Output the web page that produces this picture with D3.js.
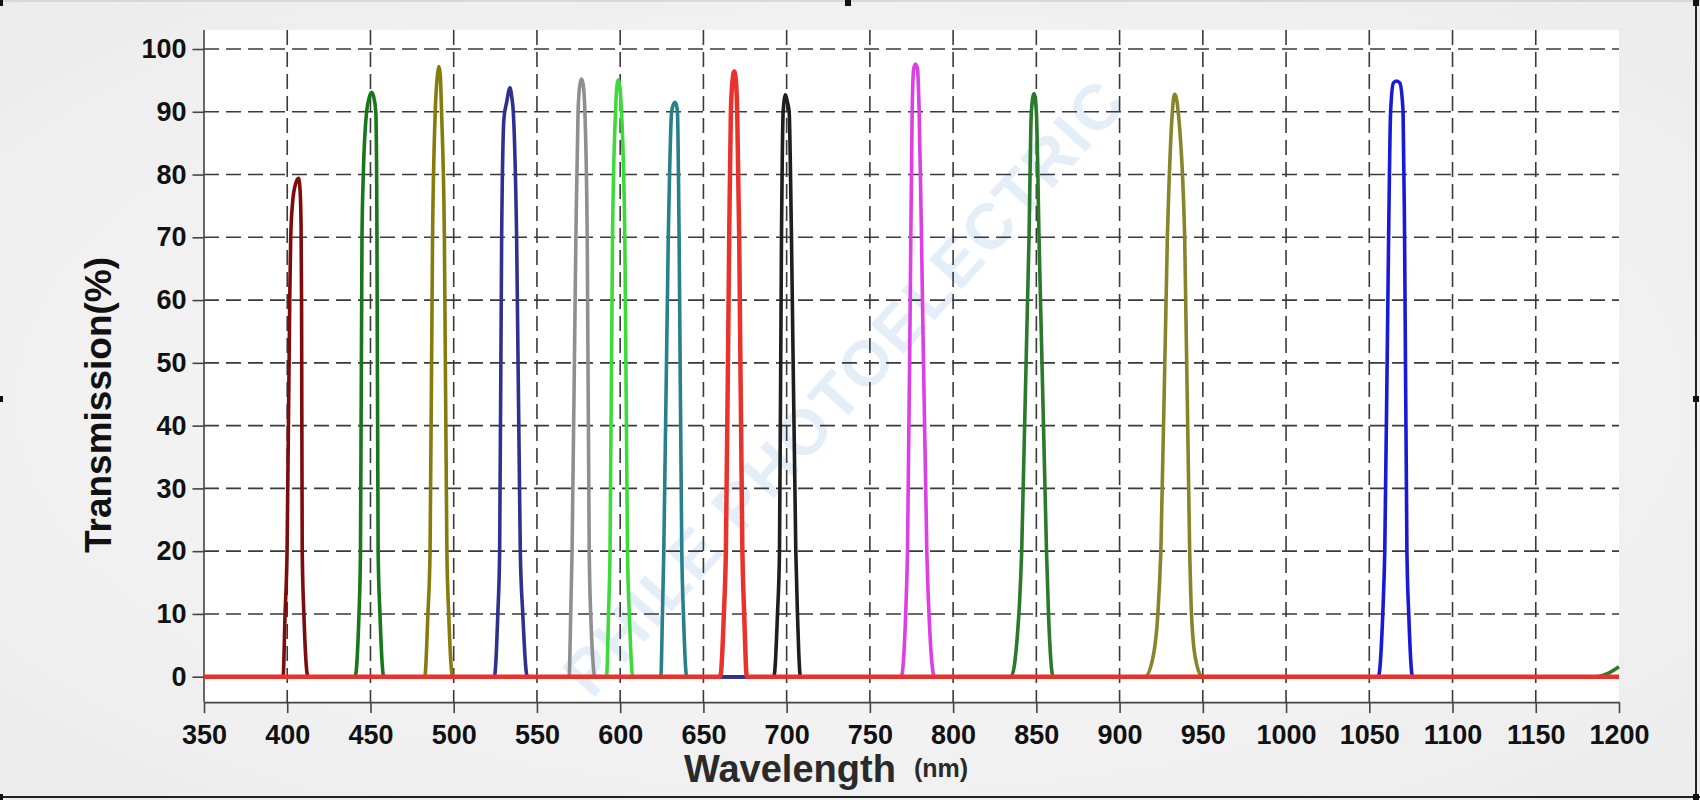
<!DOCTYPE html>
<html>
<head>
<meta charset="utf-8">
<script src="https://cdn.jsdelivr.net/npm/d3@7"></script>
<style>
  body { margin: 0; background: #f2f2f2; }
  #svg text { font-family: "Liberation Sans", Arial, sans-serif; }
</style>
</head>
<body>
<div id="svg"></div>
<script>
// axis ticks
const wavelengthTicks = [350, 400, 450, 500, 550, 600, 650, 700, 750, 800, 850, 900, 950, 1000, 1050, 1100, 1150, 1200];
const transmissionTicks = [0, 10, 20, 30, 40, 50, 60, 70, 80, 90, 100];

// filter curves, [wavelength nm, transmission %]
const f407 = [[397.5,0],[398.7,10],[399.9,20],[401.5,60],[402.1,70],[403.2,75.5],[405,78.5],[406.8,79.4],[407.8,77],[408.3,72],[408.6,60],[409,20],[410,10],[412.5,0]];
const f450 = [[440.7,0],[443.1,10],[444,20],[444.9,70],[445.7,80],[447.7,90],[449.3,92.3],[450.7,93.1],[452,92.3],[453.2,90],[453.7,80],[453.9,70],[454.6,20],[455.7,10],[458,0]];
const f491 = [[482.6,0],[484.5,10],[485.8,20],[487.3,70],[488.9,90],[490.3,96],[491.1,97.2],[491.9,96],[492.7,90],[494.4,70],[495.9,20],[497,10],[499.4,0]];
const f534 = [[524.4,0],[526.5,10],[527.6,20],[528.8,70],[530.2,89],[531.8,91.5],[533.8,93.8],[534.9,92.3],[535.8,90],[537.8,70],[540,20],[541.5,10],[544.2,0]];
const f577 = [[569.3,0],[570.3,10],[571.1,20],[573.4,70],[574.7,90],[575.8,94.3],[576.8,95.2],[577.8,94.3],[578.8,90],[580.2,70],[581.4,20],[582.3,10],[584.9,0]];
const f599 = [[591.8,0],[593,10],[593.9,20],[595.4,70],[597.2,90],[598,94],[598.8,95.1],[599.8,94],[600.8,90],[602.8,70],[604.4,20],[605.5,10],[607.6,0]];
const f633 = [[624.4,0],[625.4,10],[626.2,20],[628.9,70],[630.9,90],[632,91.2],[632.9,91.5],[633.8,91],[634.4,90],[635.4,70],[637,20],[638,10],[640,0]];
const f669 = [[660.1,0],[662.3,10],[663.5,20],[665.5,70],[666.5,90],[667.5,95],[668.5,96.4],[669.5,95],[670.3,90],[671.5,70],[673.4,20],[674.5,10],[676.1,0]];
const f700 = [[692.3,0],[694.5,10],[695.7,20],[696.9,70],[697.9,90],[699.3,92.7],[700.5,91.5],[701.5,90],[702.9,70],[705.5,20],[706.5,10],[708.3,0]];
const f777 = [[768.8,0],[771.5,10],[772.6,20],[774.6,70],[775.4,90],[776.3,96.8],[777.4,97.6],[778.6,96.8],[779.6,90],[781,70],[784.2,20],[785.5,10],[788.8,0]];
const f849 = [[834.8,0],[839.5,10],[841.2,20],[845.6,70],[847,90],[848.6,92.9],[850,90],[851.6,70],[856.1,20],[857.3,10],[860.1,0],[1186,0],[1193,0.5],[1200,1.6]];
const f933 = [[915.2,0],[920,3],[923,10],[924.8,20],[928.7,70],[931.7,90],[932.5,92.3],[933.1,92.8],[934,92.3],[935.2,90],[939.1,70],[942.1,20],[943.2,10],[945.5,3],[949.7,0]];
const f1066 = [[1055.4,0],[1058.1,10],[1059.3,20],[1061.6,70],[1062.8,90],[1064.5,94.6],[1066.4,94.9],[1068.3,94.6],[1070.3,90],[1071.2,70],[1072.6,20],[1073.7,10],[1076,0]];

// draw order (red last so its baseline sits on top), and colours kept apart
const curves = [f407, f450, f491, f577, f599, f633, f700, f777, f849, f933, f1066, f534, f669];
const curveColors = ['#7d0c0c', '#17781a', '#857c0c', '#8f8f8f', '#3ddb3a', '#27808a', '#1e1e1e', '#dd3ee6', '#2b7a2b', '#87842a', '#1a1ad6', '#30308f', '#e8322b'];

function makeGraph(){
  let w = 1700;
  let h = 800;

  let svg = d3.select('#svg').append('svg').attr('width', w).attr('height', h);

  // page background with a soft vignette
  let defs = svg.append('defs');
  let grad = defs.append('radialGradient').attr('id', 'bg').attr('cx', '50%').attr('cy', '50%').attr('r', '70%');
  grad.append('stop').attr('offset', '0%').attr('stop-color', '#fafafa');
  grad.append('stop').attr('offset', '100%').attr('stop-color', '#ececec');
  svg.append('rect').attr('width', w).attr('height', h).attr('fill', 'url(#bg)');

  let xScale = d3.scaleLinear()
              .domain([350, 1200])
              .range([204, 1619]);

  let yScale = d3.scaleLinear()
              .domain([0, 100])
              .range([676.7, 49]);

  let top = 30;
  let bottom = yScale(-4.05);

  // white plot area
  svg.append('rect')
    .attr('x', xScale(350)).attr('y', top)
    .attr('width', xScale(1200) - xScale(350)).attr('height', bottom - top)
    .attr('fill', '#ffffff');

  // watermark
  svg.append('text')
    .attr('transform', 'translate(843,388) rotate(-48)')
    .attr('text-anchor', 'middle')
    .attr('dy', '0.35em')
    .attr('textLength', 800)
    .style('font-size', '64px')
    .style('font-weight', 'bold')
    .style('fill', '#dce9f8')
    .style('opacity', 0.75)
    .text('PHILE PHOTOELECTRIC');

  // dashed grid
  svg.append('g').selectAll('line')
    .data(transmissionTicks.filter(d => d > 0))
    .enter()
      .append('line')
      .attr('x1', xScale(350)).attr('x2', xScale(1200))
      .attr('y1', d => yScale(d)).attr('y2', d => yScale(d))
      .attr('stroke', '#3a3a3a')
      .attr('stroke-width', 1.6)
      .attr('stroke-dasharray', '15,7');

  svg.append('g').selectAll('line')
    .data(wavelengthTicks.filter(d => d > 350 && d < 1200))
    .enter()
      .append('line')
      .attr('x1', d => xScale(d)).attr('x2', d => xScale(d))
      .attr('y1', top).attr('y2', bottom)
      .attr('stroke', '#3a3a3a')
      .attr('stroke-width', 1.6)
      .attr('stroke-dasharray', '15,7');

  // axes
  let xAxis = d3.axisBottom(xScale).tickValues(wavelengthTicks).tickFormat(d3.format('d'))
                .tickSize(11).tickPadding(12).tickSizeOuter(0);
  let xAxisGroup = svg.append('g')
                  .attr('transform', `translate(0, ${bottom})`)
                  .call(xAxis);

  let yAxis = d3.axisLeft(yScale).tickValues(transmissionTicks).tickFormat(d3.format('d'))
                .tickSize(11.5).tickPadding(6).tickSizeOuter(0);
  let yAxisGroup = svg.append('g')
                  .attr('transform', `translate(${xScale(350)}, 0)`)
                  .call(yAxis);

  // left axis runs all the way up
  yAxisGroup.select('.domain').remove();
  svg.append('line')
    .attr('x1', xScale(350)).attr('x2', xScale(350))
    .attr('y1', top).attr('y2', bottom)
    .attr('stroke', '#444').attr('stroke-width', 1.6);

  [xAxisGroup, yAxisGroup].forEach(g => {
    g.selectAll('.domain').attr('stroke', '#444').attr('stroke-width', 1.6);
    g.selectAll('.tick line').attr('stroke', '#444').attr('stroke-width', 1.6);
    g.selectAll('.tick text')
      .style('font-family', '"Liberation Sans", Arial, sans-serif')
      .style('font-size', '27px')
      .style('font-weight', 'bold')
      .style('fill', '#111');
  });

  // curves
  let line = d3.line()
              .x(d => xScale(d[0]))
              .y(d => yScale(d[1]))
              .curve(d3.curveMonotoneX);

  let lo = xScale.domain()[0];
  let hi = xScale.domain()[1];
  let full = curves.map(c => {
    let pts = c.slice();
    if (pts[0][0] > lo) pts.unshift([lo, 0]);
    if (pts[pts.length - 1][0] < hi) pts.push([hi, 0]);
    return pts;
  });

  svg.append('g').selectAll('path')
    .data(full)
    .enter()
      .append('path')
      .attr('d', line)
      .attr('fill', 'none')
      .attr('stroke', (d, i) => curveColors[i])
      .attr('stroke-width', (d, i) => i === full.length - 1 ? 4.5 : 3.6)
      .attr('stroke-linejoin', 'round');

  // axis titles
  svg.append('text')
    .attr('transform', 'rotate(-90)')
    .attr('x', -405)
    .attr('y', 111)
    .attr('text-anchor', 'middle')
    .style('font-size', '37px')
    .style('font-weight', 'bold')
    .style('fill', '#111')
    .text('Transmission(%)');

  svg.append('text')
    .attr('x', 684)
    .attr('y', 782)
    .style('font-size', '38px')
    .style('font-weight', 'bold')
    .style('fill', '#2a2a2a')
    .text('Wavelength');

  svg.append('text')
    .attr('x', 914)
    .attr('y', 777)
    .style('font-size', '25px')
    .style('font-weight', 'bold')
    .style('fill', '#2a2a2a')
    .text('(nm)');

  // frame edges and the little handles of the original picture
  svg.append('line').attr('x1', 0).attr('x2', w).attr('y1', 797).attr('y2', 797)
    .attr('stroke', '#222').attr('stroke-width', 2);
  svg.append('line').attr('x1', 1696).attr('x2', 1696).attr('y1', 0).attr('y2', h)
    .attr('stroke', '#222').attr('stroke-width', 2);
  svg.append('line').attr('x1', 0).attr('x2', w).attr('y1', 1).attr('y2', 1)
    .attr('stroke', '#d8d8d8').attr('stroke-width', 2);
  let handles = [[848, 0], [0, 399], [1696, 399], [1696, 797], [0, 797], [0, 0], [1696, 0]];
  svg.append('g').selectAll('rect')
    .data(handles)
    .enter()
      .append('rect')
      .attr('x', d => Math.min(d[0] - 3, w - 6))
      .attr('y', d => Math.min(Math.max(d[1] - 3, 0), h - 6))
      .attr('width', 6).attr('height', 6)
      .attr('fill', '#111');
}

window.onload = function(){
  makeGraph();
}
</script>
</body>
</html>
